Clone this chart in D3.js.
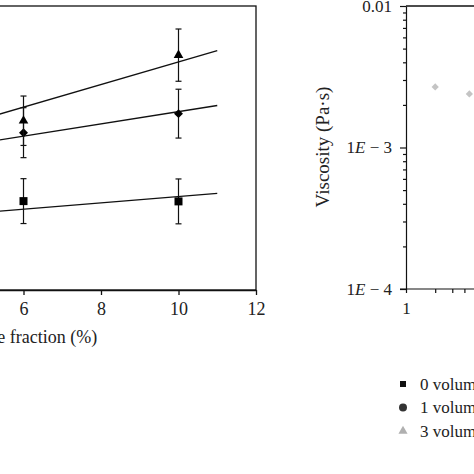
<!DOCTYPE html>
<html>
<head>
<meta charset="utf-8">
<script src="https://cdn.jsdelivr.net/npm/d3@7"></script>
<style>
  body { margin: 0; background: #fff; }
  svg { display: block; }
</style>
</head>
<body>
<div id="main"></div>
<script>
// left panel: values at each volume fraction (arbitrary units, y labels are cropped)
const volFrac = [6, 10];
const triVals = [5.96, 8.27];
const triErr = [0.87, 0.92];
const diaVals = [5.54, 6.21];
const diaErr = [0.88, 0.86];
const sqVals = [3.13, 3.12];
const sqErr = [0.79, 0.79];
// linear fits: triangle, diamond, square
const fitSlope = [0.398, 0.216, 0.112];
const fitIntercept = [4.05, 4.12, 2.17];
const fitRange = [0, 11];
const xTicksLeft = [0, 2, 4, 6, 8, 10, 12];

// right panel: viscosity vs (log) x
const shearX = [2, 4.5];
const viscosity = [0.00268, 0.00239];
const yMajor = [1e-4, 1e-3, 1e-2];
const yMajorLabels = [["1", "E", " \u2212 4"], ["1", "E", " \u2212 3"], ["0.01"]];
const xMinorRight = [2, 3, 4];

const legendLabels = ["0 volume fraction", "1 volume fraction", "3 volume fraction"];
const legendColors = ["#111", "#333", "#b0b0b0"];
const legendShapes = [d3.symbolSquare, d3.symbolCircle, d3.symbolTriangle];

const width = 474;
const height = 474;
const serif = "'Liberation Serif', 'DejaVu Serif', serif";

const svg = d3.select("#main")
    .append("svg")
    .attr("width", width)
    .attr("height", height);

// ---------- left panel ----------
const xL = d3.scaleLinear().domain([0, 12]).range([-209, 256]);
const yL = d3.scaleLinear().domain([0, 10]).range([290, 6]);

svg.append("rect")
    .attr("x", xL(0))
    .attr("y", yL(10))
    .attr("width", xL(12) - xL(0))
    .attr("height", yL(0) - yL(10))
    .attr("fill", "none")
    .attr("stroke", "#111")
    .attr("stroke-width", 1.3);

// only the ticks that fall inside the window get drawn
const shownTicks = xTicksLeft.filter(t => xL(t) > 5);
const xAxisL = svg.append("g")
    .attr("transform", "translate(0," + yL(0) + ")")
    .call(d3.axisBottom(xL).tickValues(shownTicks).tickSize(5).tickSizeOuter(0));
xAxisL.attr("font-family", serif).attr("font-size", 18);
xAxisL.selectAll("path, line").attr("stroke", "#111").attr("stroke-width", 1.3);
xAxisL.selectAll("text").attr("fill", "#222").attr("dy", "0.95em");

svg.append("text")
    .attr("x", (xL(0) + xL(12)) / 2)
    .attr("y", 343)
    .attr("text-anchor", "middle")
    .attr("font-family", serif)
    .attr("font-size", 18)
    .attr("fill", "#222")
    .text("Volume fraction (%)");

// fit lines
fitSlope.forEach((s, i) => {
    svg.append("line")
        .attr("x1", xL(fitRange[0]))
        .attr("y1", yL(fitIntercept[i] + s * fitRange[0]))
        .attr("x2", xL(fitRange[1]))
        .attr("y2", yL(fitIntercept[i] + s * fitRange[1]))
        .attr("stroke", "#111")
        .attr("stroke-width", 1.3);
});

function drawSeries(vals, errs, shape, size, rot) {
    const g = svg.append("g");
    vals.forEach((v, i) => {
        const x = xL(volFrac[i]);
        const y0 = yL(v - errs[i]);
        const y1 = yL(v + errs[i]);
        g.append("line").attr("x1", x).attr("x2", x).attr("y1", y0).attr("y2", y1)
            .attr("stroke", "#111").attr("stroke-width", 1.2);
        [y0, y1].forEach(yy => {
            g.append("line").attr("x1", x - 3).attr("x2", x + 3).attr("y1", yy).attr("y2", yy)
                .attr("stroke", "#111").attr("stroke-width", 1.2);
        });
        g.append("path")
            .attr("d", d3.symbol().type(shape).size(size)())
            .attr("transform", "translate(" + x + "," + yL(v) + ") rotate(" + rot + ")")
            .attr("fill", "#000");
    });
}
drawSeries(sqVals, sqErr, d3.symbolSquare, 64, 0);
drawSeries(diaVals, diaErr, d3.symbolSquare, 40, 45);
drawSeries(triVals, triErr, d3.symbolTriangle, 40, 0);

// ---------- right panel ----------
const xR = d3.scaleLog().domain([1, 10]).range([406, 503]);
const yR = d3.scaleLog().domain([1e-4, 1e-2]).range([289, 6]);

svg.append("line")
    .attr("x1", xR(1)).attr("x2", width)
    .attr("y1", yR(1e-2)).attr("y2", yR(1e-2))
    .attr("stroke", "#111").attr("stroke-width", 1.3);

const yTickVals = [];
[1e-4, 1e-3].forEach(dec => {
    for (let k = 1; k < 10; k++) yTickVals.push(dec * k);
});
yTickVals.push(1e-2);

const yAxisR = svg.append("g")
    .attr("transform", "translate(" + xR(1) + ",0)")
    .call(d3.axisLeft(yR).tickValues(yTickVals).tickSize(6).tickSizeOuter(0).tickFormat(""));
yAxisR.selectAll("path, line").attr("stroke", "#111").attr("stroke-width", 1.2);
yAxisR.selectAll(".tick")
    .filter(d => !yMajor.some(m => Math.abs(m - d) / m < 1e-6))
    .select("line").attr("x2", -3);

yMajor.forEach((m, i) => {
    const t = svg.append("text")
        .attr("x", 392)
        .attr("y", yR(m))
        .attr("dy", "0.35em")
        .attr("text-anchor", "end")
        .attr("font-family", serif)
        .attr("font-size", 17)
        .attr("fill", "#222");
    yMajorLabels[i].forEach(part => {
        t.append("tspan")
            .attr("font-style", part === "E" ? "italic" : "normal")
            .text(part);
    });
});

const xAxisR = svg.append("g")
    .attr("transform", "translate(0," + yR(1e-4) + ")")
    .call(d3.axisBottom(xR).tickValues([1].concat(xMinorRight)).tickSize(4).tickSizeOuter(0)
        .tickFormat(d => d === 1 ? "1" : ""));
xAxisR.attr("font-family", serif).attr("font-size", 17);
xAxisR.selectAll("path, line").attr("stroke", "#111").attr("stroke-width", 1.2);
xAxisR.selectAll("text").attr("fill", "#222").attr("dy", "1.05em");
xAxisR.select(".domain").attr("d", "M" + (xR(1) - 6) + ",0H" + width);

svg.append("text")
    .attr("transform", "translate(329,147) rotate(-90)")
    .attr("text-anchor", "middle")
    .attr("font-family", serif)
    .attr("font-size", 19)
    .attr("fill", "#222")
    .text("Viscosity (Pa\u00b7s)");

svg.selectAll(".visc")
    .data(shearX)
    .enter()
    .append("path")
    .attr("class", "visc")
    .attr("d", d3.symbol().type(d3.symbolSquare).size(26)())
    .attr("transform", (d, i) => "translate(" + xR(d) + "," + yR(viscosity[i]) + ") rotate(45)")
    .attr("fill", "#c4c4c4");

// ---------- legend ----------
const legend = svg.append("g").attr("transform", "translate(403,384)");
legendLabels.forEach((lab, i) => {
    legend.append("path")
        .attr("d", d3.symbol().type(legendShapes[i]).size(i === 1 ? 50 : 36)())
        .attr("transform", "translate(0," + (i * 23.5) + ")")
        .attr("fill", legendColors[i]);
    legend.append("text")
        .attr("x", 17)
        .attr("y", i * 23.5)
        .attr("dy", "0.35em")
        .attr("font-family", serif)
        .attr("font-size", 17)
        .attr("fill", "#222")
        .text(lab);
});
</script>
</body>
</html>
